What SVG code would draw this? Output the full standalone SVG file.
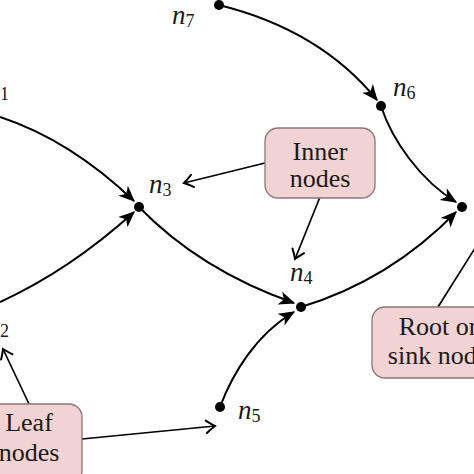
<svg xmlns="http://www.w3.org/2000/svg" width="474" height="474" viewBox="0 0 474 474">
<defs>
<marker id="ah" markerUnits="userSpaceOnUse" markerWidth="20" markerHeight="20" viewBox="-14 -8 16 16" refX="0" refY="0" orient="auto">
<path d="M1,0 L-12,-5.5 L-8.5,0 L-12,5.5 Z" fill="#000"/>
</marker>
<marker id="oh" markerUnits="userSpaceOnUse" markerWidth="20" markerHeight="20" viewBox="-10 -8 12 16" refX="0" refY="0" orient="auto">
<path d="M-7,-5 Q-2.5,-1.5 0,0 Q-2.5,1.5 -7,5" fill="none" stroke="#000" stroke-width="1.6" stroke-linecap="round"/>
</marker>
</defs>
<style>
.e{fill:none;stroke:#000;stroke-width:2;marker-end:url(#ah)}
.a{fill:none;stroke:#000;stroke-width:1.7;marker-end:url(#oh)}
.l{fill:none;stroke:#000;stroke-width:1.7}
.dot{fill:#000}
.box{fill:#f1d3d3;stroke:#8e7474;stroke-width:1.3}
.bt{font-family:"Liberation Serif",serif;font-size:26px;fill:#1a1a1a;text-anchor:middle}
.nl{font-family:"Liberation Serif",serif;font-size:27px;font-style:italic;fill:#1a1a1a}
.sub{font-style:normal;font-size:18px}
</style>
<g id="connectors">
<path class="e" d="M219,5 Q320,30 377,100"/>
<path class="e" d="M381,106 C392,140 420,180 456,202"/>
<path class="e" d="M0,117 Q70,140 134,201"/>
<path class="e" d="M0,302 Q70,270 134,212"/>
<path class="e" d="M139,207 Q200,270 294,303"/>
<path class="e" d="M220,407 C232,375 255,335 294,312"/>
<path class="e" d="M301,307 Q390,280 456,212"/>
<path class="a" d="M265,163 L184,183"/>
<path class="a" d="M320,197 L295,259"/>
<path class="l" d="M438,307 L482,237"/>
<path class="a" d="M29,404 L3,349"/>
<path class="a" d="M82,439 L215,426"/>
</g>
<g id="n7"><circle class="dot" cx="219" cy="5" r="5"/><text class="nl" x="172" y="24">n<tspan class="sub" dy="3">7</tspan></text></g>
<g id="n6"><circle class="dot" cx="381" cy="106" r="5"/><text class="nl" x="393" y="96">n<tspan class="sub" dy="3">6</tspan></text></g>
<g id="n3"><circle class="dot" cx="139" cy="207" r="5"/><text class="nl" x="149" y="193">n<tspan class="sub" dy="3">3</tspan></text></g>
<g id="n4"><circle class="dot" cx="301" cy="307" r="5"/><text class="nl" x="290" y="281">n<tspan class="sub" dy="3">4</tspan></text></g>
<g id="n5"><circle class="dot" cx="220" cy="407" r="5"/><text class="nl" x="238" y="419">n<tspan class="sub" dy="3">5</tspan></text></g>
<g id="root"><circle class="dot" cx="462" cy="207" r="5"/></g>
<g id="n1"><text class="nl" x="0" y="100"><tspan class="sub">1</tspan></text></g>
<g id="n2"><text class="nl" x="0" y="337"><tspan class="sub">2</tspan></text></g>
<g id="inner-box"><rect class="box" x="265" y="128" width="110" height="70" rx="13"/><text class="bt" x="320" y="160">Inner</text><text class="bt" x="320" y="187">nodes</text></g>
<g id="root-box"><rect class="box" x="372" y="307" width="132" height="71" rx="13"/><text class="bt" x="438" y="335">Root or</text><text class="bt" x="438" y="364">sink node</text></g>
<g id="leaf-box"><rect class="box" x="-24" y="404" width="106" height="80" rx="13"/><text class="bt" x="29" y="431">Leaf</text><text class="bt" x="29" y="461">nodes</text></g>
</svg>
